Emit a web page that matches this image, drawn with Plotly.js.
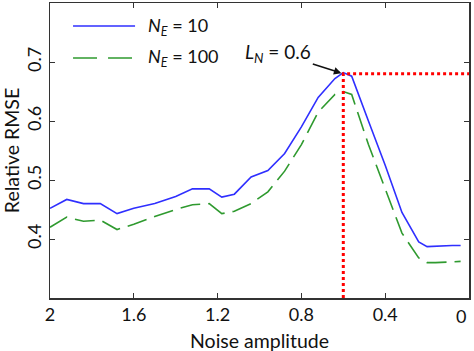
<!DOCTYPE html>
<html><head><meta charset="utf-8">
<script src="https://cdn.plot.ly/plotly-3.0.1.min.js"></script>
<style>html,body{margin:0;padding:0;background:#fff}#c{width:474px;height:351px}</style>
</head><body><div id="c"></div>
<script>
const noiseAmp = [2.0,1.92,1.84,1.76,1.68,1.6,1.5,1.4,1.32,1.24,1.18,1.12,1.04,0.96,0.88,0.8,0.72,0.64,0.6,0.56,0.48,0.4,0.32,0.24,0.2,0.16,0.08,0.04];
const rmseNe10 = [0.452,0.467,0.460,0.460,0.443,0.452,0.460,0.472,0.485,0.485,0.471,0.476,0.505,0.516,0.545,0.590,0.640,0.672,0.682,0.676,0.600,0.525,0.445,0.395,0.387,0.388,0.389,0.389];
const rmseNe100 = [0.420,0.437,0.430,0.432,0.416,0.425,0.438,0.450,0.458,0.460,0.443,0.447,0.460,0.480,0.515,0.560,0.615,0.645,0.650,0.645,0.560,0.485,0.410,0.368,0.360,0.360,0.361,0.362];
const seriesNames = ['<i>N<sub>E</sub></i> = 10', '<i>N<sub>E</sub></i> = 100'];
const LN = 0.6;
const LNrmse = 0.68;
const markerX = [LN, LN, 0];
const markerY = [0.3, LNrmse, LNrmse];
const yTicks = [0.4,0.5,0.6,0.7];
const xTicks = [2,1.6,1.2,0.8,0.4,0];
const xTitle = 'Noise amplitude';
const yTitle = 'Relative RMSE';

const fam = 'Lato, "Open Sans", sans-serif';
const txt = '#111';
const blue = '#2f2fff', green = '#2f9a2f';
const traces = [
  {x:noiseAmp, y:rmseNe10, mode:'lines', name:seriesNames[0], line:{color:blue, width:1.6}},
  {x:noiseAmp, y:rmseNe100, mode:'lines', name:seriesNames[1], line:{color:green, width:1.6, dash:'20px,8px'}},
  {x:markerX, y:markerY, mode:'lines', line:{color:'#ff0000', width:3, dash:'dot'}}
];
// legend drawn as paper-positioned samples
const legY = [0.922, 0.8136];
const shapes = [
  {type:'line', xref:'paper', yref:'paper', x0:0.055, x1:0.203, y0:legY[0], y1:legY[0], line:{color:blue, width:1.6}},
  {type:'line', xref:'paper', yref:'paper', x0:0.055, x1:0.203, y0:legY[1], y1:legY[1], line:{color:green, width:1.6, dash:'24px,11px'}}
];
const annotations = [
  {xref:'paper', yref:'paper', x:0.229, y:legY[0], xanchor:'left', yanchor:'middle', text:seriesNames[0], showarrow:false, font:{family:fam, size:18, color:txt}},
  {xref:'paper', yref:'paper', x:0.229, y:legY[1], xanchor:'left', yanchor:'middle', text:seriesNames[1], showarrow:false, font:{family:fam, size:18, color:txt}},
  {x:LN, y:LNrmse, xref:'x', yref:'y', text:'<i>L<sub>N</sub></i> = 0.6', showarrow:true, arrowhead:2, arrowsize:1, arrowwidth:1.5, arrowcolor:txt, ax:-65, ay:-21, standoff:2, font:{family:fam, size:19, color:txt}},
  {x:0, y:0, xref:'x', yref:'paper', xanchor:'right', yanchor:'top', yshift:-5, xshift:-1, text:String(xTicks[xTicks.length-1]), showarrow:false, font:{family:fam, size:18, color:txt}},
  {x:0.5, y:0, xref:'paper', yref:'paper', xanchor:'center', yanchor:'middle', yshift:-42, text:xTitle, showarrow:false, font:{family:fam, size:19.5, color:txt}}
];
const layout = {
  width:474, height:351,
  margin:{l:50, r:5, t:3, b:53},
  paper_bgcolor:'#fff', plot_bgcolor:'#fff',
  font:{family:fam, size:18, color:txt},
  showlegend:false,
  xaxis:{range:[2,0], tickvals:xTicks, ticktext:xTicks.map((v,i)=> i===xTicks.length-1 ? '' : String(v)), ticks:'inside', ticklen:5, tickcolor:'#333', showline:true, linecolor:'#333', linewidth:1.5, mirror:'ticks', showgrid:false, zeroline:false,
    tickfont:{family:fam, size:18, color:txt}},
  yaxis:{range:[0.3,0.8], tickvals:yTicks, ticktext:yTicks.map(v=>v.toFixed(1)), tickangle:-90, ticks:'inside', ticklen:5, tickcolor:'#333', showline:true, linecolor:'#333', linewidth:1.5, mirror:'ticks', showgrid:false, zeroline:false,
    tickfont:{family:fam, size:18, color:txt},
    title:{text:yTitle, font:{family:fam, size:19.5, color:txt}, standoff:2}},
  shapes:shapes,
  annotations:annotations
};
Plotly.newPlot('c', traces, layout, {staticPlot:true, displayModeBar:false});
</script></body></html>
